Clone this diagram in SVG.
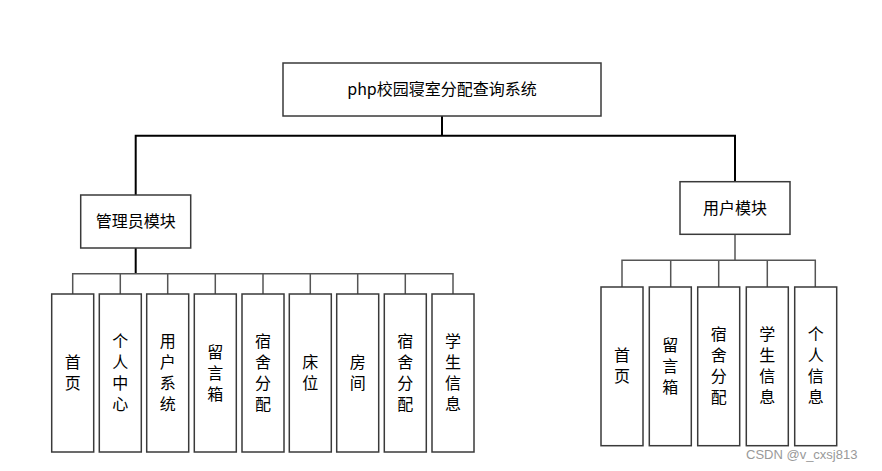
<svg xmlns="http://www.w3.org/2000/svg" width="882" height="471" viewBox="0 0 882 471">
<style>
.b{fill:#fff;stroke:#3a3a3a;stroke-width:1.5}
.t{font-family:"Noto Sans CJK SC","Liberation Sans",sans-serif;font-size:16px;fill:#000;text-anchor:middle}
.v{font-family:"Noto Sans CJK SC",sans-serif;font-size:16px;fill:#000;text-anchor:middle;writing-mode:vertical-rl;letter-spacing:5px}
.c{fill:none;stroke:#555;stroke-width:1.5}
.k{fill:none;stroke:#000;stroke-width:2}
</style>
<rect width="882" height="471" fill="#fff"/>
<g id="connectors">
<path class="k" d="M442 116V135.7H135.7V195M442 135.7H735V181.7M135.7 248V273.7"/>
<path class="c" d="M72.7 294V273.7H453V294M120.3 273.7V294M167.7 273.7V294M215.3 273.7V294M263 273.7V294M310.3 273.7V294M357.7 273.7V294M405.3 273.7V294"/>
<path class="c" d="M735 234.3V260.3M622 287V260.3H815.3V287M670.7 260.3V287M718.7 260.3V287M767.3 260.3V287"/>
</g>
<g id="root"><rect class="b" x="283" y="63" width="318" height="53"/><text class="t" x="442" y="95">php校园寝室分配查询系统</text></g>
<g id="admin"><rect class="b" x="80.7" y="195" width="110" height="53"/><text class="t" x="135.7" y="227">管理员模块</text></g>
<g id="user"><rect class="b" x="680" y="181.7" width="110" height="52.6"/><text class="t" x="735" y="214">用户模块</text></g>
<g id="a1"><rect class="b" x="51.7" y="294" width="42" height="158"/><text class="v" x="72.7" y="375">首页</text></g>
<g id="a2"><rect class="b" x="99.3" y="294" width="42" height="158"/><text class="v" x="120.3" y="375">个人中心</text></g>
<g id="a3"><rect class="b" x="146.7" y="294" width="42" height="158"/><text class="v" x="167.7" y="375">用户系统</text></g>
<g id="a4"><rect class="b" x="194.3" y="294" width="42" height="158"/><text class="v" x="215.3" y="375">留言箱</text></g>
<g id="a5"><rect class="b" x="242" y="294" width="42" height="158"/><text class="v" x="263" y="375">宿舍分配</text></g>
<g id="a6"><rect class="b" x="289.3" y="294" width="42" height="158"/><text class="v" x="310.3" y="375">床位</text></g>
<g id="a7"><rect class="b" x="336.7" y="294" width="42" height="158"/><text class="v" x="357.7" y="375">房间</text></g>
<g id="a8"><rect class="b" x="384.3" y="294" width="42" height="158"/><text class="v" x="405.3" y="375">宿舍分配</text></g>
<g id="a9"><rect class="b" x="432" y="294" width="42" height="158"/><text class="v" x="453" y="375">学生信息</text></g>
<g id="u1"><rect class="b" x="601" y="287" width="42" height="158.7"/><text class="v" x="622" y="368">首页</text></g>
<g id="u2"><rect class="b" x="649.3" y="287" width="42" height="158.7"/><text class="v" x="670.3" y="368">留言箱</text></g>
<g id="u3"><rect class="b" x="697.7" y="287" width="42" height="158.7"/><text class="v" x="718.7" y="368">宿舍分配</text></g>
<g id="u4"><rect class="b" x="746.3" y="287" width="42" height="158.7"/><text class="v" x="767.3" y="368">学生信息</text></g>
<g id="u5"><rect class="b" x="794.7" y="287" width="42" height="158.7"/><text class="v" x="815.7" y="368">个人信息</text></g>
<text x="746" y="459" style="font-family:'Liberation Sans',sans-serif;font-size:13px;fill:#999">CSDN @v_cxsj813</text>
</svg>
